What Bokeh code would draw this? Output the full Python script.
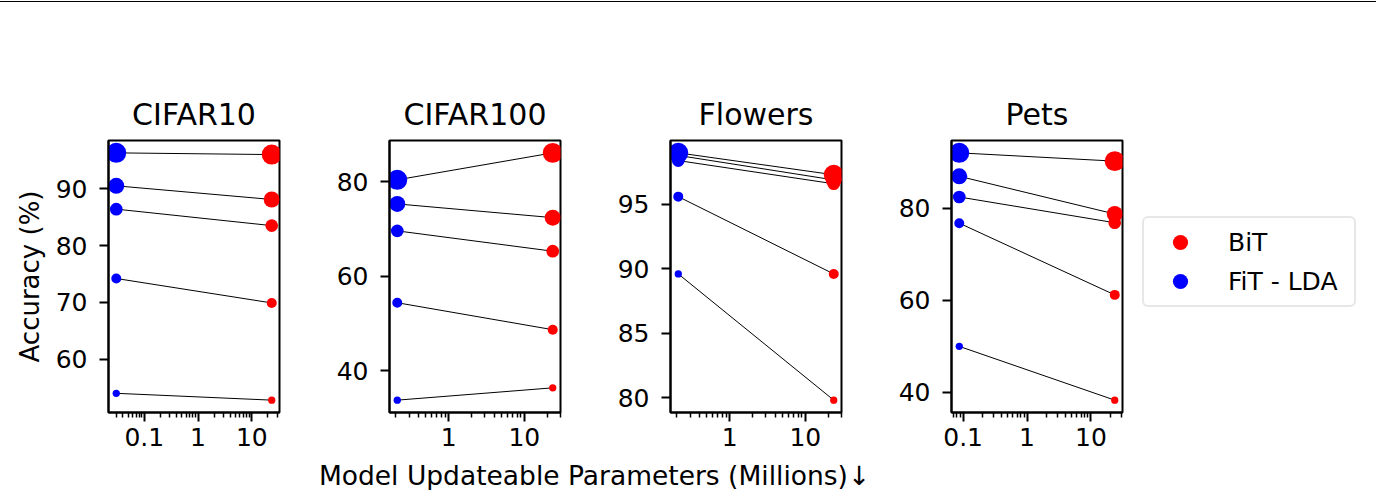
import math
from bokeh.plotting import figure
from bokeh.models import (ColumnDataSource, Range1d, FixedTicker, CustomJSTickFormatter,
                          Legend, LegendItem, Label, Div)
from bokeh.layouts import row, column
from bokeh.embed import file_html
from bokeh.resources import INLINE

# ---------------- data ----------------
datasets = ["CIFAR10", "CIFAR100", "Flowers", "Pets"]
size_rank = [1, 2, 3, 4, 5]          # marker size rank of each pair (small -> large)

fit_params = [0.030, 0.21, 0.21, 0.087]   # FiT - LDA updateable parameters (millions)
bit_params = [23.5, 23.7, 23.7, 23.6]     # BiT updateable parameters (millions)

fit_acc_cifar10 = [54.0, 74.2, 86.4, 90.5, 96.3]
bit_acc_cifar10 = [52.8, 69.9, 83.5, 88.1, 96.0]
fit_acc_cifar100 = [33.8, 54.4, 69.6, 75.3, 80.4]
bit_acc_cifar100 = [36.4, 48.7, 65.3, 72.4, 86.1]
fit_acc_flowers = [89.6, 95.6, 98.4, 98.8, 99.0]
bit_acc_flowers = [79.8, 89.6, 96.6, 96.9, 97.3]
fit_acc_pets = [50.0, 76.8, 82.5, 87.0, 92.1]
bit_acc_pets = [38.3, 61.2, 76.9, 78.8, 90.3]

y_ticks_cifar10 = [60, 70, 80, 90]
y_ticks_cifar100 = [40, 60, 80]
y_ticks_flowers = [80, 85, 90, 95]
y_ticks_pets = [40, 60, 80]
x_tick_values = [0.01, 0.1, 1, 10, 100]

fit_accs = [fit_acc_cifar10, fit_acc_cifar100, fit_acc_flowers, fit_acc_pets]
bit_accs = [bit_acc_cifar10, bit_acc_cifar100, bit_acc_flowers, bit_acc_pets]
y_ticks = [y_ticks_cifar10, y_ticks_cifar100, y_ticks_flowers, y_ticks_pets]

# ---------------- style ----------------
FONT = "DejaVu Sans"
RANK_DIAM = {1: 7.3, 2: 10.0, 3: 12.7, 4: 16.0, 5: 20.0}
FRAME_W, FRAME_H = 171, 272
BORDER_TOP, BORDER_BOTTOM = 140, 44
borders = [(108, 20), (90, 20), (90, 20), (90, 252)]

minor_ticks = [k * 10.0 ** d for d in range(-3, 3) for k in range(2, 10)]

figs = []
renderers_last = None
for i, name in enumerate(datasets):
    fx, bx = fit_params[i], bit_params[i]
    lx = [math.log10(fx), math.log10(bx)]
    sp = max(lx) - min(lx)
    xr = Range1d(10 ** (min(lx) - 0.05 * sp), 10 ** (max(lx) + 0.05 * sp))
    ys = fit_accs[i] + bit_accs[i]
    ysp = max(ys) - min(ys)
    yr = Range1d(min(ys) - 0.05 * ysp, max(ys) + 0.05 * ysp)

    bl, br = borders[i]
    p = figure(x_axis_type="log", x_range=xr, y_range=yr,
               frame_width=FRAME_W, frame_height=FRAME_H,
               min_border_left=bl, min_border_right=br,
               min_border_top=BORDER_TOP, min_border_bottom=BORDER_BOTTOM,
               output_backend="svg", toolbar_location=None, title=name)
    p.title.text_font = FONT
    p.title.text_font_size = "30px"
    p.title.text_font_style = "normal"
    p.title.text_color = "black"
    p.title.align = "center"
    p.title.standoff = 17
    p.xgrid.visible = False
    p.ygrid.visible = False
    p.outline_line_color = "black"
    p.outline_line_width = 2
    p.outline_line_alpha = 1
    p.background_fill_color = "white"
    p.border_fill_color = "white"

    n = len(size_rank)
    seg = ColumnDataSource(dict(x0=[fx] * n, y0=fit_accs[i], x1=[bx] * n, y1=bit_accs[i]))
    p.segment(x0="x0", y0="y0", x1="x1", y1="y1", source=seg, line_color="black", line_width=1)

    d = [RANK_DIAM[r] for r in size_rank]
    src_bit = ColumnDataSource(dict(x=[bx] * n, y=bit_accs[i], d=d))
    src_fit = ColumnDataSource(dict(x=[fx] * n, y=fit_accs[i], d=d))
    r_bit = p.scatter(x="x", y="y", size="d", source=src_bit, fill_color="#ff0000", line_color=None)
    r_fit = p.scatter(x="x", y="y", size="d", source=src_fit, fill_color="#0000ff", line_color=None)

    p.xaxis.ticker = FixedTicker(ticks=x_tick_values, minor_ticks=minor_ticks)
    p.xaxis.formatter = CustomJSTickFormatter(code="return tick.toString();")
    p.yaxis.ticker = FixedTicker(ticks=y_ticks[i], minor_ticks=[])
    for ax in (p.xaxis[0], p.yaxis[0]):
        ax.axis_line_width = 2
        ax.axis_line_color = "black"
        ax.major_tick_line_width = 2
        ax.major_tick_line_color = "black"
        ax.major_tick_out = 9
        ax.major_tick_in = 0
        ax.minor_tick_line_width = 1.5
        ax.minor_tick_line_color = "black"
        ax.minor_tick_out = 5
        ax.minor_tick_in = 0
        ax.major_label_text_font = FONT
        ax.major_label_text_font_size = "25px"
        ax.major_label_text_color = "black"
    p.xaxis.major_label_standoff = 6
    p.yaxis.major_label_standoff = 12
    if i == 0:
        p.yaxis.axis_label = "Accuracy (%)"
        p.yaxis.axis_label_text_font = FONT
        p.yaxis.axis_label_text_font_size = "26px"
        p.yaxis.axis_label_text_font_style = "normal"
        p.yaxis.axis_label_text_color = "black"
        p.yaxis.axis_label_standoff = 8
    figs.append(p)
    renderers_last = (r_bit, r_fit)

p4 = figs[3]
r_bit, r_fit = renderers_last
legend = Legend(items=[LegendItem(label="BiT", renderers=[r_bit]),
                       LegendItem(label="FiT - LDA", renderers=[r_fit])],
                location=(20, 105), margin=0, padding=5, spacing=1,
                glyph_width=62, glyph_height=38, label_standoff=17, label_width=121,
                label_text_font=FONT, label_text_font_size="25px", label_text_color="black",
                border_line_color="#d0d0d0", border_line_width=2,
                background_fill_color="white", background_fill_alpha=0.8)
try:
    legend.border_radius = 6
except Exception:
    pass
p4.add_layout(legend, "right")

topline = Div(text='<div style="position:fixed;left:0;top:1px;width:100vw;height:1px;background:#000"></div>',
              width=1, height=1, margin=0)

lab = figure(width=1370, height=34, output_backend="svg", toolbar_location=None,
             x_axis_location=None, y_axis_location=None, min_border=0)
lab.outline_line_color = None
lab.xgrid.visible = False
lab.ygrid.visible = False
lab.add_layout(Label(x=594, y=15, x_units="screen", y_units="screen",
                     text="Model Updateable Parameters (Millions)\u2193",
                     text_align="center", text_baseline="middle",
                     text_font=FONT, text_font_size="26.5px", text_color="black"))

layout = column(row(*figs, topline), lab)
open("out.html", "w").write(file_html(layout, INLINE))
